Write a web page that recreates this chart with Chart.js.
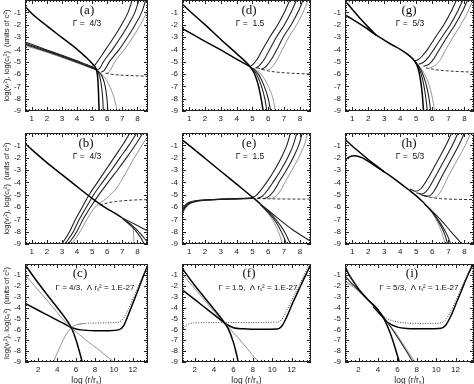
<!DOCTYPE html>
<html>
<head>
<meta charset="utf-8">
<script src="https://cdn.jsdelivr.net/npm/chart.js@4"></script>
<style>
  html, body { margin: 0; padding: 0; background: #fff; }
  #wrap { position: relative; width: 474px; height: 384px; overflow: hidden; }
  canvas { position: absolute; }
</style>
</head>
<body>
<div id="wrap"></div>
<script>
// tick labels
const xTicksTop = [1, 2, 3, 4, 5, 6, 7, 8];
const xTicksBottom = [2, 4, 6, 8, 10, 12];
const yTicks = [-9, -8, -7, -6, -5, -4, -3, -2, -1];

// ---- panel (a)  Gamma = 4/3
const aUpper = [[0.55,-0.5],[1,-1.1],[2,-2.1],[3,-3.05],[4,-4.0],[4.6,-4.65],[5.0,-5.15],[5.25,-5.55],[5.36,-6.2],[5.41,-7.2],[5.44,-8.2],[5.46,-9]];
const aLower = [
  [[0.55,-3.4],[2,-4.05],[3,-4.48],[4,-4.93],[5,-5.42],[5.3,-5.62]],
  [[0.55,-3.5],[2,-4.12],[3,-4.55],[4,-5.0],[5,-5.48],[5.32,-5.66]],
  [[0.55,-3.6],[2,-4.18],[3,-4.6],[4,-5.05],[5,-5.52],[5.35,-5.7]],
  [[0.55,-3.7],[2,-4.24],[3,-4.66],[4,-5.1],[5,-5.56],[5.4,-5.75]]
];
const aRise = [
  [[5.0,-5.35],[5.15,-5.3],[5.35,-5.0],[5.9,-4.0],[6.45,-3.0],[6.95,-2.0],[7.38,-1.0],[7.65,0]],
  [[5.35,-5.65],[5.5,-5.55],[5.75,-5.0],[6.35,-4.0],[6.9,-3.0],[7.4,-2.0],[7.83,-1.0],[8.1,0]],
  [[5.6,-5.85],[5.8,-5.7],[6.15,-5.0],[6.8,-4.0],[7.35,-3.0],[7.85,-2.0],[8.28,-1.0],[8.55,0]],
  [[5.9,-5.95],[6.15,-5.8],[6.5,-5.0],[7.15,-4.0],[7.7,-3.0],[8.2,-2.0],[8.62,-1.0],[8.7,-0.8]]
];
const aFall = [
  [[5.3,-5.62],[5.5,-6.2],[5.62,-7.0],[5.7,-8.0],[5.74,-9]],
  [[5.35,-5.7],[5.7,-6.3],[5.88,-7.1],[5.98,-8.0],[6.04,-9]],
  [[5.4,-5.75],[5.85,-6.3],[6.2,-7.1],[6.47,-8.0],[6.66,-9]]
];
const aDash = [[5.9,-5.95],[6.5,-6.05],[7,-6.1],[8,-6.15],[8.7,-6.18]];

// ---- panel (d)  Gamma = 1.5
const dUpper = [[0.55,-0.3],[1,-0.85],[2,-2.0],[3,-3.2],[4,-4.35],[4.85,-5.4],[5.1,-5.9],[5.35,-6.8],[5.55,-8.0],[5.68,-9]];
const dLower = [[0.55,-2.3],[2,-3.35],[3,-4.05],[4,-4.8],[4.85,-5.4]];
const dRise = [
  [[4.85,-5.4],[5.05,-5.2],[5.3,-4.8],[5.65,-4.0],[6.1,-3.0],[6.6,-2.0],[7.02,-1.0],[7.36,0]],
  [[5.2,-5.55],[5.45,-5.3],[5.75,-4.8],[6.1,-4.0],[6.52,-3.0],[7.02,-2.0],[7.44,-1.0],[7.78,0]],
  [[5.55,-5.65],[5.85,-5.4],[6.2,-4.8],[6.55,-4.0],[6.95,-3.0],[7.45,-2.0],[7.87,-1.0],[8.2,0]],
  [[5.9,-5.72],[6.2,-5.5],[6.55,-4.85],[6.9,-4.0],[7.3,-3.0],[7.8,-2.0],[8.2,-1.0],[8.52,0]]
];
const dFall = [
  [[4.9,-5.45],[5.25,-6.0],[5.55,-6.9],[5.78,-8.0],[5.92,-9]],
  [[5.0,-5.5],[5.4,-6.05],[5.75,-7.0],[6.0,-8.0],[6.15,-9]],
  [[5.1,-5.55],[5.6,-6.1],[6.0,-7.0],[6.3,-8.0],[6.45,-9]]
];
const dDash = [[5.3,-5.5],[6,-5.75],[7,-5.9],[8,-5.97],[8.7,-6.0]];

// ---- panel (g)  Gamma = 5/3
const gUpper = [[0.55,-0.05],[1,-0.75],[1.5,-1.5],[2,-2.2],[2.5,-2.85]];
const gLower = [[0.55,-1.2],[1,-1.55],[1.5,-1.95],[2,-2.4],[2.5,-2.85]];
const gMain = [[2.5,-2.85],[3,-3.25],[3.5,-3.65],[4,-4.0],[4.5,-4.45],[4.9,-4.95],[5.1,-5.5],[5.25,-6.4],[5.37,-7.6],[5.45,-9]];
const gRise = [
  [[4.85,-4.95],[5.1,-4.85],[5.4,-4.5],[5.7,-4.0],[6.2,-3.0],[6.72,-2.0],[7.15,-1.0],[7.5,0]],
  [[5.15,-5.2],[5.45,-5.05],[5.75,-4.65],[6.1,-4.0],[6.6,-3.0],[7.12,-2.0],[7.55,-1.0],[7.9,0]],
  [[5.45,-5.38],[5.8,-5.2],[6.1,-4.75],[6.45,-4.0],[6.92,-3.0],[7.42,-2.0],[7.85,-1.0],[8.2,0]],
  [[5.8,-5.52],[6.15,-5.32],[6.5,-4.85],[6.85,-4.0],[7.3,-3.0],[7.78,-2.0],[8.2,-1.0],[8.55,0]]
];
const gFall = [
  [[4.9,-4.95],[5.2,-5.6],[5.42,-6.6],[5.58,-7.8],[5.69,-9]],
  [[4.9,-4.95],[5.3,-5.7],[5.58,-6.7],[5.77,-7.8],[5.9,-9]],
  [[4.95,-5.0],[5.4,-5.75],[5.75,-6.7],[5.98,-7.8],[6.15,-9]]
];
const gDash = [[5.6,-5.5],[6.2,-5.65],[7,-5.75],[8,-5.82],[8.7,-5.85]];

// ---- panel (b)  Gamma = 4/3
const bMain = [[0.55,-0.85],[1,-1.35],[2,-2.4],[3,-3.38],[4,-4.35],[5,-5.3],[5.5,-5.75],[6,-6.15],[6.5,-6.5],[7,-6.88]];
const bTail = [
  [[7,-6.88],[7.8,-7.38],[8.7,-7.95]],
  [[7,-6.9],[7.5,-7.35],[8,-7.9],[8.4,-8.45],[8.7,-8.9]],
  [[7,-6.92],[7.5,-7.45],[7.9,-7.95],[8.2,-8.45],[8.45,-9]],
  [[7,-6.95],[7.4,-7.3],[7.7,-7.6],[7.75,-8.3],[7.77,-9]]
];
const bRise = [
  [[3.0,-9],[3.5,-8.0],[3.9,-7.0],[4.35,-6.0],[4.8,-5.0],[5.35,-4.0],[5.9,-3.0],[6.45,-2.0],[7.0,-1.0],[7.5,0]],
  [[3.21,-9],[3.75,-8.0],[4.15,-7.0],[4.62,-6.0],[5.1,-5.0],[5.68,-4.0],[6.28,-3.0],[6.85,-2.0],[7.43,-1.0],[7.95,0]],
  [[3.43,-9],[3.98,-8.0],[4.4,-7.0],[4.9,-6.0],[5.45,-5.0],[6.05,-4.0],[6.68,-3.0],[7.28,-2.0],[7.85,-1.0],[8.35,0]],
  [[3.65,-9],[4.2,-8.0],[4.65,-7.0],[5.2,-6.0],[5.95,-5.3],[6.6,-4.5],[7.2,-3.3],[7.75,-2.1],[8.3,-1.0],[8.7,-0.2]]
];
const bDash = [[5.5,-5.85],[6,-5.68],[6.5,-5.57],[7,-5.5],[8,-5.42],[8.7,-5.4]];

// ---- panel (e)  Gamma = 1.5
const eMain = [[0.55,-0.55],[1,-1.0],[2,-2.05],[3,-3.1],[4,-4.15],[5,-5.2],[5.5,-5.75]];
const eTail = [
  [[5.5,-5.75],[6.5,-6.8],[7.5,-7.8],[8.7,-8.8]],
  [[5.5,-5.78],[6.0,-6.35],[6.5,-7.05],[7.0,-7.95],[7.4,-9]],
  [[5.5,-5.8],[6.0,-6.45],[6.5,-7.25],[6.9,-8.2],[7.15,-9]],
  [[5.5,-5.82],[6.0,-6.55],[6.4,-7.35],[6.7,-8.2],[6.9,-9]]
];
const eSound = [
  [[0.55,-6.2],[0.75,-5.85],[1.0,-5.62],[1.5,-5.48],[2,-5.42],[3,-5.36],[4,-5.32],[5,-5.28]],
  [[0.55,-6.35],[0.75,-5.95],[1.0,-5.68],[1.5,-5.5],[2,-5.43],[3,-5.37],[4,-5.33],[5,-5.29]],
  [[0.55,-6.5],[0.75,-6.05],[1.0,-5.74],[1.5,-5.53],[2,-5.45],[3,-5.38],[4,-5.34],[5,-5.3]],
  [[0.55,-6.65],[0.75,-6.15],[1.0,-5.8],[1.5,-5.56],[2,-5.47],[3,-5.39],[4,-5.35],[5,-5.3]]
];
const eRise = [
  [[4.9,-5.25],[5.2,-5.1],[5.55,-4.6],[5.95,-3.9],[6.4,-3.0],[6.9,-1.8],[7.2,-0.9],[7.4,0]],
  [[5.3,-5.3],[5.6,-5.15],[5.95,-4.65],[6.35,-3.9],[6.8,-3.0],[7.3,-1.8],[7.6,-0.9],[7.8,0]],
  [[5.7,-5.32],[6.0,-5.18],[6.35,-4.7],[6.72,-3.9],[7.15,-3.0],[7.65,-1.8],[7.95,-0.9],[8.15,0]],
  [[6.1,-5.34],[6.4,-5.2],[6.75,-4.72],[7.1,-3.9],[7.5,-3.0],[8.0,-1.8],[8.3,-0.9],[8.5,0]]
];
const eDash = [[5,-5.3],[6,-5.33],[7,-5.35],[8.7,-5.36]];

// ---- panel (h)  Gamma = 5/3
const hUpper = [[0.55,-0.5],[1,-1.05],[1.5,-1.6],[2,-2.15],[2.5,-2.65],[3,-3.15]];
const hLower = [[0.55,-2.2],[0.8,-1.95],[1.15,-1.85],[1.6,-2.0],[2,-2.3],[2.5,-2.72],[3,-3.15]];
const hMain = [[3,-3.15],[3.5,-3.6],[4,-4.08],[4.5,-4.58],[5,-5.1],[5.5,-5.7]];
const hTail = [
  [[5.5,-5.7],[6.5,-7.0],[7.2,-8.05],[7.85,-9]],
  [[5.5,-5.72],[6,-6.4],[6.5,-7.3],[6.9,-8.2],[7.15,-9]],
  [[5.5,-5.74],[6,-6.45],[6.5,-7.45],[6.8,-8.3],[6.95,-9]],
  [[5.5,-5.76],[6,-6.5],[6.4,-7.45],[6.65,-8.3],[6.8,-9]]
];
const hRise = [
  [[4.6,-4.55],[4.95,-4.72],[5.3,-4.5],[5.8,-3.5],[6.35,-2.2],[6.85,-1.0],[7.2,0]],
  [[5.0,-4.85],[5.35,-4.95],[5.7,-4.6],[6.2,-3.5],[6.75,-2.2],[7.25,-1.0],[7.6,0]],
  [[5.35,-5.05],[5.75,-5.12],[6.1,-4.72],[6.6,-3.5],[7.15,-2.2],[7.65,-1.0],[8.0,0]],
  [[5.75,-5.2],[6.15,-5.22],[6.5,-4.8],[7.0,-3.5],[7.55,-2.2],[8.05,-1.0],[8.4,0]]
];
const hDash = [[5.2,-4.98],[5.8,-5.2],[6.5,-5.32],[7.5,-5.38],[8.7,-5.4]];

// ---- panel (c)  Gamma = 4/3, Lambda rs^2 = 1e-27
const cThick = [[0.6,-0.05],[1,-0.55],[2,-1.75],[3,-2.9],[4,-4.0],[5,-5.15],[5.5,-5.85],[6,-7.0],[6.4,-8.2],[6.65,-9]];
const cGray = [[0.6,-1.0],[1,-1.4],[2,-2.4],[3,-3.4],[4,-4.45],[5,-5.45],[5.5,-5.85],[7,-6.95],[8.5,-7.95],[10,-9]];
const cMid = [[0.6,-3.6],[2,-4.25],[3,-4.7],[4,-5.15],[5,-5.62],[5.5,-5.85]];
const cUp = [[3.6,-9],[4.2,-7.8],[4.8,-6.7],[5.5,-5.85],[6.2,-5.55],[7,-5.45]];
const cDot = [[6.2,-5.55],[7,-5.45],[8,-5.42],[9,-5.4],[10,-5.38],[10.6,-5.3],[11.0,-5.0],[11.5,-4.2],[12,-3.2],[12.5,-2.2],[13,-1.2],[13.6,-0.05]];
const cFlat = [[5.5,-5.85],[6.5,-6.05],[8,-6.12],[9.5,-6.12],[10.5,-6.05],[11,-5.7],[11.5,-4.7],[12,-3.6],[12.5,-2.5],[13,-1.35],[13.6,-0.05]];

// ---- panel (f)  Gamma = 1.5, Lambda rs^2 = 1e-27
const fThick = [[0.7,-0.35],[1,-0.75],[2,-1.95],[3,-3.05],[4,-4.15],[5,-5.3],[5.5,-6.0],[6,-7.2],[6.3,-8.2],[6.5,-9]];
const fGray = [[0.7,-0.85],[1,-1.2],[2,-2.25],[3,-3.3],[4,-4.35],[5.2,-5.5],[6,-6.3],[7,-7.3],[8,-8.4],[8.6,-9]];
const fMid = [[0.7,-2.35],[2,-3.25],[3,-3.95],[4,-4.65],[5.2,-5.5]];
const fDot = [[0.7,-6.2],[0.9,-5.85],[1.2,-5.6],[1.6,-5.45],[2.5,-5.4],[5,-5.38],[8,-5.38],[10,-5.35],[10.7,-5.3],[11.1,-4.95],[11.6,-4.1],[12.2,-3.0],[12.8,-1.9],[13.4,-0.8],[14,0.2]];
const fFlat = [[5.2,-5.5],[6,-5.85],[7,-5.95],[9,-6.0],[10.5,-5.98],[11,-5.7],[11.5,-4.85],[12.1,-3.6],[12.7,-2.45],[13.3,-1.3],[14,0]];

// ---- panel (i)  Gamma = 5/3, Lambda rs^2 = 1e-27
const iThick = [[0.6,-0.2],[1,-0.95],[1.5,-1.65],[2,-2.3],[3,-3.3],[4,-4.2],[4.6,-5.0],[5.2,-6.2],[5.7,-7.5],[6.2,-9]];
const iBlack = [[0.6,-1.1],[1,-1.5],[1.5,-1.95],[2,-2.4],[3,-3.35],[4,-4.25],[5,-5.4],[6,-6.7],[7,-8.1],[7.6,-9]];
const iGray = [[0.6,-1.6],[1,-1.75],[1.5,-2.05],[2,-2.45],[3,-3.35],[4,-4.25],[5,-5.35],[6,-6.55],[7,-7.9],[7.8,-9]];
const iGray2 = [[0.6,-2.0],[0.9,-1.85],[1.3,-2.0],[2,-2.5],[3,-3.35]];
const iDot = [[3.5,-3.85],[4.2,-4.5],[5,-5.05],[6,-5.32],[7,-5.42],[9,-5.45],[10.4,-5.42],[10.9,-5.2],[11.4,-4.5],[12,-3.4],[12.6,-2.2],[13.2,-1.0],[13.9,0.3]];
const iFlat = [[3.5,-3.9],[4.2,-4.6],[5,-5.35],[6,-5.8],[7,-5.92],[9,-5.95],[10.5,-5.9],[11,-5.6],[11.5,-4.8],[12,-3.75],[12.6,-2.45],[13.2,-1.15],[13.9,0.2]];

// line styles
const STY = {
  K: { borderColor: '#000', borderWidth: 1.5 },
  k: { borderColor: '#1c1c1c', borderWidth: 1.05 },
  g: { borderColor: '#8a8a8a', borderWidth: 0.9 },
  d: { borderColor: '#333', borderWidth: 1.0, borderDash: [3, 2] },
  o: { borderColor: '#444', borderWidth: 1.0, borderDash: [1, 1.5] }
};
const fan = ['k', 'k', 'k', 'g'];

const yTitle = 'log(vᵣ²), log(cₛ²)  (units of c²)';

const cols = [{ L: 25, W: 123 }, { L: 182, W: 129 }, { L: 345, W: 129 }];
const rows = [{ T: 0, H: 111, xa: 14 }, { T: 133, H: 111, xa: 14 }, { T: 264, H: 98, xa: 24 }];

const panels = [
  { r: 0, c: 0, xr: [0.55, 8.7], tag: '(a)', txt: 'Γ =  4/3', lx: 87, tx: 87,
    lines: [['K', aUpper], ...aLower.map((d, i) => [fan[i], d]), ...aRise.map((d, i) => [fan[i], d]),
            ...aFall.map((d, i) => [fan[i + 1], d]), ['d', aDash]] },
  { r: 0, c: 1, xr: [0.55, 8.7], tag: '(d)', txt: 'Γ =  1.5', lx: 249, tx: 250,
    lines: [['K', dUpper], ['K', dLower], ...dRise.map((d, i) => [fan[i], d]),
            ...dFall.map((d, i) => [fan[i + 1], d]), ['d', dDash]] },
  { r: 0, c: 2, xr: [0.55, 8.6], tag: '(g)', txt: 'Γ =  5/3', lx: 409, tx: 410,
    lines: [['K', gUpper], ['K', gLower], ['K', gMain], ...gRise.map((d, i) => [fan[i], d]),
            ...gFall.map((d, i) => [fan[i + 1], d]), ['d', gDash]] },
  { r: 1, c: 0, xr: [0.55, 8.7], tag: '(b)', txt: 'Γ =  4/3', lx: 86, tx: 87,
    lines: [['K', bMain], ...bTail.map((d, i) => [fan[i], d]), ...bRise.map((d, i) => [fan[i], d]), ['d', bDash]] },
  { r: 1, c: 1, xr: [0.55, 8.7], tag: '(e)', txt: 'Γ =  1.5', lx: 249, tx: 250,
    lines: [['K', eMain], ...eTail.map((d, i) => [fan[i], d]), ...eSound.map((d, i) => [fan[i], d]),
            ...eRise.map((d, i) => [fan[i], d]), ['d', eDash]] },
  { r: 1, c: 2, xr: [0.55, 8.6], tag: '(h)', txt: 'Γ =  5/3', lx: 409, tx: 410,
    lines: [['K', hUpper], ['K', hLower], ['K', hMain], ...hTail.map((d, i) => [fan[i], d]),
            ...hRise.map((d, i) => [fan[i], d]), ['d', hDash]] },
  { r: 2, c: 0, xr: [0.6, 13.6], tag: '(c)', txt: 'Γ = 4/3,  Λ rₛ² = 1.E-27', lx: 80, tx: 95,
    lines: [['K', cThick], ['g', cGray], ['K', cMid], ['g', cUp], ['o', cDot], ['K', cFlat]] },
  { r: 2, c: 1, xr: [0.7, 14.0], tag: '(f)', txt: 'Γ = 1.5,  Λ rₛ² = 1.E-27', lx: 249, tx: 258,
    lines: [['K', fThick], ['g', fGray], ['K', fMid], ['o', fDot], ['K', fFlat]] },
  { r: 2, c: 2, xr: [0.6, 13.9], tag: '(i)', txt: 'Γ = 5/3,  Λ rₛ² = 1.E-27', lx: 412, tx: 419,
    lines: [['K', iThick], ['k', iBlack], ['g', iGray], ['g', iGray2], ['o', iDot], ['K', iFlat]] }
];

// frame with inward ticks on all four sides, plus panel labels
const framePlugin = {
  id: 'frame',
  afterDatasetsDraw(chart, args, o) {
    const { ctx, chartArea: a, scales: { x, y } } = chart;
    ctx.save();
    ctx.strokeStyle = '#222';
    ctx.lineWidth = 1;
    ctx.strokeRect(Math.round(a.left) + 0.5, Math.round(a.top) + 0.5,
      Math.round(a.right - a.left) - 1, Math.round(a.bottom - a.top) - 1);
    ctx.beginPath();
    const tickX = (v, len) => {
      const px = Math.round(x.getPixelForValue(v)) + 0.5;
      ctx.moveTo(px, a.bottom); ctx.lineTo(px, a.bottom - len);
      ctx.moveTo(px, a.top); ctx.lineTo(px, a.top + len);
    };
    const tickY = (v, len) => {
      const py = Math.round(y.getPixelForValue(v)) + 0.5;
      ctx.moveTo(a.left, py); ctx.lineTo(a.left + len, py);
      ctx.moveTo(a.right, py); ctx.lineTo(a.right - len, py);
    };
    for (let v = Math.ceil(x.min / o.xMinor) * o.xMinor; v <= x.max; v += o.xMinor) tickX(v, 2);
    for (let v = -9; v <= 0; v += 0.2) tickY(v, 2);
    o.xMajor.forEach(v => tickX(v, 4));
    yTicks.forEach(v => tickY(v, 4));
    ctx.stroke();

    ctx.fillStyle = '#111';
    ctx.textAlign = 'center';
    ctx.textBaseline = 'middle';
    ctx.font = '13px "Liberation Serif", "DejaVu Serif", serif';
    ctx.fillText(o.tag, o.lx, a.top + o.ly);
    ctx.font = o.tsize + 'px "Liberation Sans", Arial, sans-serif';
    ctx.fillText(o.txt, o.tx, a.top + o.ty);
    ctx.restore();
  }
};

const wrap = document.getElementById('wrap');
const YA = 25, PT = 4, PR = 4;

panels.forEach(p => {
  const col = cols[p.c], row = rows[p.r];
  const left = col.L - YA, top = row.T - PT;
  const cw = YA + col.W + PR, ch = PT + row.H + row.xa;
  const cv = document.createElement('canvas');
  cv.width = cw; cv.height = ch;
  cv.style.left = left + 'px'; cv.style.top = top + 'px';
  cv.style.width = cw + 'px'; cv.style.height = ch + 'px';
  wrap.appendChild(cv);

  const xMajor = p.r === 2 ? xTicksBottom : xTicksTop;
  const tickFont = { family: '"Liberation Sans", Arial, sans-serif', size: 8 };

  new Chart(cv, {
    type: 'scatter',
    data: {
      datasets: p.lines.map(([s, d]) => Object.assign({
        data: d, showLine: true, pointRadius: 0, pointHoverRadius: 0,
        fill: false, cubicInterpolationMode: 'monotone'
      }, STY[s]))
    },
    options: {
      responsive: false,
      animation: false,
      devicePixelRatio: 1,
      events: [],
      layout: { padding: { top: PT, right: PR, left: 0, bottom: 0 } },
      plugins: {
        legend: { display: false },
        tooltip: { enabled: false },
        frame: {
          xMajor, xMinor: p.r === 2 ? 0.4 : 0.2,
          tag: p.tag, txt: p.txt, tsize: p.r === 2 ? 8 : 8.5,
          lx: p.lx - left, tx: p.tx - left,
          ly: p.r === 2 ? 10 : 11, ty: 24
        }
      },
      scales: {
        x: {
          type: 'linear', min: p.xr[0], max: p.xr[1],
          grid: { display: false, drawTicks: false },
          border: { display: false },
          afterBuildTicks: s => { s.ticks = xMajor.map(v => ({ value: v })); },
          afterFit: s => { s.height = row.xa; s.paddingLeft = 0; s.paddingRight = 0; },
          ticks: { padding: 3, maxRotation: 0, autoSkip: false, color: '#222', font: tickFont },
          title: {
            display: p.r === 2, text: 'log (r/rₛ)', color: '#222',
            font: { family: '"Liberation Sans", Arial, sans-serif', size: 8.5 },
            padding: { top: 0, bottom: 0 }
          }
        },
        y: {
          type: 'linear', min: -9, max: 0,
          grid: { display: false, drawTicks: false },
          border: { display: false },
          afterBuildTicks: s => { s.ticks = yTicks.map(v => ({ value: v })); },
          afterFit: s => { s.width = YA; s.paddingTop = 0; s.paddingBottom = 0; },
          ticks: { padding: 4, autoSkip: false, color: '#222', font: tickFont },
          title: {
            display: p.c === 0, text: yTitle, color: '#222',
            font: { family: '"Liberation Sans", Arial, sans-serif', size: 7.5 },
            padding: { top: 2, bottom: 0 }
          }
        }
      }
    },
    plugins: [framePlugin]
  });
});
</script>
</body>
</html>
